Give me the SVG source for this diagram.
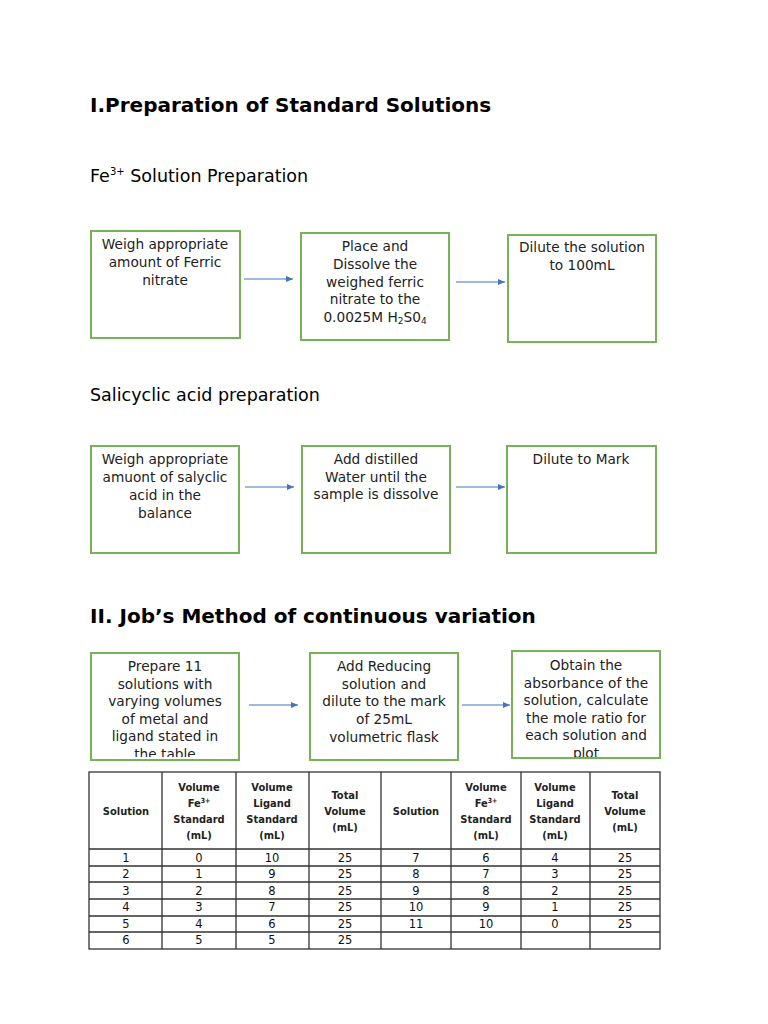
<svg xmlns="http://www.w3.org/2000/svg" width="768" height="1024" viewBox="0 0 768 1024">
<style>
.h1{font-family:"DejaVu Sans",sans-serif;font-weight:bold;font-size:20px;fill:#000}
.h2{font-family:"DejaVu Sans",sans-serif;font-size:17.5px;fill:#000}
.bx{fill:#fff;stroke:#77b356;stroke-width:2}
.t{font-family:"DejaVu Sans",sans-serif;font-size:13.7px;fill:#222;text-anchor:middle}
.ar{stroke:#4472c4;stroke-width:1.2;fill:none}
.tb{fill:none;stroke:#333;stroke-width:1.3}
.th{font-family:"DejaVu Sans Condensed","DejaVu Sans",sans-serif;font-weight:bold;font-size:11px;fill:#222;text-anchor:middle}
.td{font-family:"DejaVu Sans",sans-serif;font-size:11.5px;fill:#111;text-anchor:middle}
</style>
<defs>
<marker id="ah" markerWidth="8" markerHeight="8" refX="7" refY="4" orient="auto" markerUnits="userSpaceOnUse">
<path d="M0,1 L7,4 L0,7 Z" fill="#4472c4"/>
</marker>
<clipPath id="c31"><rect x="91" y="653" width="148" height="104"/></clipPath>
<clipPath id="c33"><rect x="511" y="651" width="149" height="106"/></clipPath>
</defs>
<rect width="768" height="1024" fill="#fff"/>

<text class="h1" x="90" y="112">I.Preparation of Standard Solutions</text>
<text class="h2" x="90" y="182">Fe<tspan font-size="10" dy="-7">3+</tspan><tspan dy="7"> Solution Preparation</tspan></text>
<text class="h2" x="90" y="401">Salicyclic acid preparation</text>
<text class="h1" x="90" y="623">II. Job’s Method of continuous variation</text>

<g id="n11"><rect class="bx" x="91" y="231" width="149" height="107"/>
<text class="t" x="165"><tspan x="165" y="249">Weigh appropriate</tspan><tspan x="165" y="267">amount of Ferric</tspan><tspan x="165" y="285">nitrate</tspan></text></g>
<g id="n12"><rect class="bx" x="301" y="233" width="148" height="107"/>
<text class="t"><tspan x="375" y="251">Place and</tspan><tspan x="375" y="269">Dissolve the</tspan><tspan x="375" y="287">weighed ferric</tspan><tspan x="375" y="304">nitrate to the</tspan><tspan x="375" y="322">0.0025M H<tspan font-size="9" dy="2">2</tspan><tspan dy="-2">S0</tspan><tspan font-size="9" dy="2">4</tspan></tspan></text></g>
<g id="n13"><rect class="bx" x="508" y="235" width="148" height="107"/>
<text class="t"><tspan x="582" y="252">Dilute the solution</tspan><tspan x="582" y="270">to 100mL</tspan></text></g>

<g id="n21"><rect class="bx" x="91" y="446" width="148" height="107"/>
<text class="t"><tspan x="165" y="464">Weigh appropriate</tspan><tspan x="165" y="482">amuont of salyclic</tspan><tspan x="165" y="500">acid in the</tspan><tspan x="165" y="518">balance</tspan></text></g>
<g id="n22"><rect class="bx" x="302" y="446" width="148" height="107"/>
<text class="t"><tspan x="376" y="464">Add distilled</tspan><tspan x="376" y="482">Water until the</tspan><tspan x="376" y="499">sample is dissolve</tspan></text></g>
<g id="n23"><rect class="bx" x="507" y="446" width="149" height="107"/>
<text class="t"><tspan x="581" y="464">Dilute to Mark</tspan></text></g>

<g id="n31"><rect class="bx" x="91" y="653" width="148" height="107"/>
<text class="t" clip-path="url(#c31)"><tspan x="165" y="671">Prepare 11</tspan><tspan x="165" y="689">solutions with</tspan><tspan x="165" y="706">varying volumes</tspan><tspan x="165" y="724">of metal and</tspan><tspan x="165" y="741">ligand stated in</tspan><tspan x="165" y="759">the table</tspan></text></g>
<g id="n32"><rect class="bx" x="310" y="653" width="148" height="107"/>
<text class="t"><tspan x="384" y="671">Add Reducing</tspan><tspan x="384" y="689">solution and</tspan><tspan x="384" y="706">dilute to the mark</tspan><tspan x="384" y="724">of 25mL</tspan><tspan x="384" y="742">volumetric flask</tspan></text></g>
<g id="n33"><rect class="bx" x="512" y="651" width="148" height="107"/>
<text class="t" clip-path="url(#c33)"><tspan x="586" y="670">Obtain the</tspan><tspan x="586" y="688">absorbance of the</tspan><tspan x="586" y="705">solution, calculate</tspan><tspan x="586" y="723">the mole ratio for</tspan><tspan x="586" y="740">each solution and</tspan><tspan x="586" y="758">plot</tspan></text></g>

<g id="connectors">
<line class="ar" x1="244" y1="279" x2="293" y2="279" marker-end="url(#ah)"/>
<line class="ar" x1="456" y1="282" x2="505" y2="282" marker-end="url(#ah)"/>
<line class="ar" x1="245" y1="487" x2="294" y2="487" marker-end="url(#ah)"/>
<line class="ar" x1="456" y1="487" x2="505" y2="487" marker-end="url(#ah)"/>
<line class="ar" x1="249" y1="705" x2="298" y2="705" marker-end="url(#ah)"/>
<line class="ar" x1="462" y1="705" x2="510" y2="705" marker-end="url(#ah)"/>
</g>

<g id="table">
<rect class="tb" x="89" y="772" width="571" height="177" stroke-width="1.8"/>
<path class="tb" d="M162,772V949M236,772V949M309,772V949M381,772V949M451,772V949M521,772V949M590,772V949"/>
<path class="tb" d="M89,849H660M89,866H660M89,882H660M89,899H660M89,916H660M89,932H660"/>
<g>
<text class="th" x="126" y="815">Solution</text>
<text class="th" x="199"><tspan x="199" y="791">Volume</tspan><tspan x="199" y="807">Fe<tspan font-size="7" dy="-4">3+</tspan></tspan><tspan x="199" y="823">Standard</tspan><tspan x="199" y="839">(mL)</tspan></text>
<text class="th" x="272"><tspan x="272" y="791">Volume</tspan><tspan x="272" y="807">Ligand</tspan><tspan x="272" y="823">Standard</tspan><tspan x="272" y="839">(mL)</tspan></text>
<text class="th" x="345"><tspan x="345" y="799">Total</tspan><tspan x="345" y="815">Volume</tspan><tspan x="345" y="831">(mL)</tspan></text>
<text class="th" x="416" y="815">Solution</text>
<text class="th" x="486"><tspan x="486" y="791">Volume</tspan><tspan x="486" y="807">Fe<tspan font-size="7" dy="-4">3+</tspan></tspan><tspan x="486" y="823">Standard</tspan><tspan x="486" y="839">(mL)</tspan></text>
<text class="th" x="555"><tspan x="555" y="791">Volume</tspan><tspan x="555" y="807">Ligand</tspan><tspan x="555" y="823">Standard</tspan><tspan x="555" y="839">(mL)</tspan></text>
<text class="th" x="625"><tspan x="625" y="799">Total</tspan><tspan x="625" y="815">Volume</tspan><tspan x="625" y="831">(mL)</tspan></text>
</g>
<g class="td">
<text class="td" x="126" y="862">1</text><text class="td" x="199" y="862">0</text><text class="td" x="272" y="862">10</text><text class="td" x="345" y="862">25</text>
<text class="td" x="416" y="862">7</text><text class="td" x="486" y="862">6</text><text class="td" x="555" y="862">4</text><text class="td" x="625" y="862">25</text>
<text class="td" x="126" y="878">2</text><text class="td" x="199" y="878">1</text><text class="td" x="272" y="878">9</text><text class="td" x="345" y="878">25</text>
<text class="td" x="416" y="878">8</text><text class="td" x="486" y="878">7</text><text class="td" x="555" y="878">3</text><text class="td" x="625" y="878">25</text>
<text class="td" x="126" y="895">3</text><text class="td" x="199" y="895">2</text><text class="td" x="272" y="895">8</text><text class="td" x="345" y="895">25</text>
<text class="td" x="416" y="895">9</text><text class="td" x="486" y="895">8</text><text class="td" x="555" y="895">2</text><text class="td" x="625" y="895">25</text>
<text class="td" x="126" y="911">4</text><text class="td" x="199" y="911">3</text><text class="td" x="272" y="911">7</text><text class="td" x="345" y="911">25</text>
<text class="td" x="416" y="911">10</text><text class="td" x="486" y="911">9</text><text class="td" x="555" y="911">1</text><text class="td" x="625" y="911">25</text>
<text class="td" x="126" y="928">5</text><text class="td" x="199" y="928">4</text><text class="td" x="272" y="928">6</text><text class="td" x="345" y="928">25</text>
<text class="td" x="416" y="928">11</text><text class="td" x="486" y="928">10</text><text class="td" x="555" y="928">0</text><text class="td" x="625" y="928">25</text>
<text class="td" x="126" y="944">6</text><text class="td" x="199" y="944">5</text><text class="td" x="272" y="944">5</text><text class="td" x="345" y="944">25</text>
</g>
</g>
</svg>
